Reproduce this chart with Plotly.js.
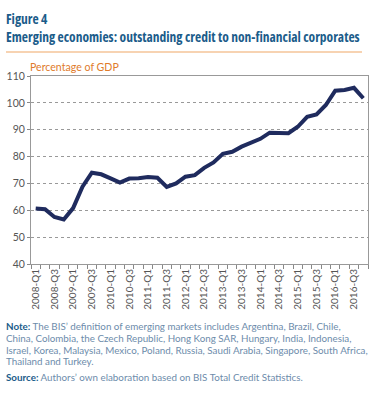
<!DOCTYPE html>
<html>
<head>
<meta charset="utf-8">
<script src="https://cdn.plot.ly/plotly-3.0.1.min.js"></script>
<style>
html,body{margin:0;padding:0;background:#fff;}
#chart{width:379px;height:400px;}
text[style*="Open Sans"]{font-stretch:75%;}
</style>
</head>
<body>
<div id="chart"></div>
<script>
const quarters = [
  "2008-Q1","2008-Q2","2008-Q3","2008-Q4",
  "2009-Q1","2009-Q2","2009-Q3","2009-Q4",
  "2010-Q1","2010-Q2","2010-Q3","2010-Q4",
  "2011-Q1","2011-Q2","2011-Q3","2011-Q4",
  "2012-Q1","2012-Q2","2012-Q3","2012-Q4",
  "2013-Q1","2013-Q2","2013-Q3","2013-Q4",
  "2014-Q1","2014-Q2","2014-Q3","2014-Q4",
  "2015-Q1","2015-Q2","2015-Q3","2015-Q4",
  "2016-Q1","2016-Q2","2016-Q3","2016-Q4"
];
const creditPctGDP = [
  60.7, 60.4, 57.5, 56.6,
  60.8, 68.8, 74.0, 73.4,
  71.9, 70.3, 71.8, 71.9,
  72.4, 72.1, 68.7, 70.0,
  72.5, 73.1, 75.8, 77.8,
  81.0, 81.8, 83.7, 85.2,
  86.6, 88.9, 88.7, 88.7,
  91.1, 94.8, 95.7, 99.2,
  104.5, 104.8, 105.6, 101.7
];
const tickLabels = quarters.map((q, i) => (i % 2 === 0 ? q : ""));
const yTicks = [40, 50, 60, 70, 80, 90, 100, 110];

const condensed = "Open Sans, sans-serif";
const sans = "Lato, sans-serif";
const titleBlue = "#1b5c8a";
const noteColor = "#6d8cab";

function px2x(px) { return (px - 31) / 337; }
function py2y(py) { return (264 - py) / 188; }

const trace = {
  x: quarters,
  y: creditPctGDP,
  type: "scatter",
  mode: "lines",
  line: { color: "#1f2b5e", width: 4 },
  hoverinfo: "skip"
};

const noteLines = [
  '<span style="color:' + titleBlue + '"><b>Note:</b></span> The BIS’ definition of emerging markets includes Argentina, Brazil, Chile,',
  'China, Colombia, the Czech Republic, Hong Kong SAR, Hungary, India, Indonesia,',
  'Israel, Korea, Malaysia, Mexico, Poland, Russia, Saudi Arabia, Singapore, South Africa,',
  'Thailand and Turkey.'
];
const noteY = [326, 338, 349.5, 361];

const annotations = [
  { text: "<b>Figure 4</b><br><b>Emerging economies: outstanding credit to non-financial corporates</b>",
    x: px2x(5), y: py2y(28), xref: "paper", yref: "paper",
    xanchor: "left", yanchor: "middle", showarrow: false, align: "left", borderpad: 0,
    font: { family: condensed, size: 13.5, color: titleBlue } },
  { text: "Percentage of GDP", x: px2x(29), y: py2y(66.5), xref: "paper", yref: "paper",
    xanchor: "left", yanchor: "middle", showarrow: false, borderpad: 0,
    font: { family: sans, size: 10.6, color: "#e07b2c" } }
];
noteLines.forEach((t, i) => {
  annotations.push({ text: t, x: px2x(5), y: py2y(noteY[i]), xref: "paper", yref: "paper",
    xanchor: "left", yanchor: "middle", showarrow: false, align: "left", borderpad: 0,
    font: { family: sans, size: 9.8, color: noteColor } });
});
annotations.push({
  text: '<span style="color:' + titleBlue + '"><b>Source:</b></span> Authors’ own elaboration based on BIS Total Credit Statistics.',
  x: px2x(5), y: py2y(377), xref: "paper", yref: "paper",
  xanchor: "left", yanchor: "middle", showarrow: false, align: "left", borderpad: 0,
  font: { family: sans, size: 9.8, color: noteColor } });

const layout = {
  width: 379, height: 400,
  margin: { l: 31, r: 11, t: 76, b: 136 },
  paper_bgcolor: "#fff", plot_bgcolor: "#fff",
  showlegend: false,
  xaxis: {
    type: "category",
    tickvals: quarters, ticktext: tickLabels,
    tickson: "boundaries",
    ticks: "outside", ticklen: 4, tickcolor: "#888",
    tickangle: -90,
    tickfont: { family: sans, size: 10, color: "#555" },
    showgrid: false, zeroline: false,
    showline: true, linecolor: "#999", linewidth: 1, mirror: true,
    range: [-0.5, quarters.length - 0.5],
    fixedrange: true
  },
  yaxis: {
    range: [40, 110], tickvals: yTicks,
    ticks: "outside", ticklen: 3, tickcolor: "#888",
    tickfont: { family: sans, size: 10.5, color: "#555" },
    showgrid: true, gridcolor: "#999", griddash: "3px,3px", gridwidth: 1,
    zeroline: false,
    showline: true, linecolor: "#999", linewidth: 1, mirror: true,
    fixedrange: true
  },
  shapes: [
    { type: "line", xref: "paper", yref: "paper",
      x0: px2x(6), x1: px2x(362), y0: py2y(52), y1: py2y(52),
      line: { color: "#f0a766", width: 1.2 } }
  ],
  annotations: annotations
};

Plotly.newPlot("chart", [trace], layout, { staticPlot: true, displayModeBar: false });
</script>
</body>
</html>
